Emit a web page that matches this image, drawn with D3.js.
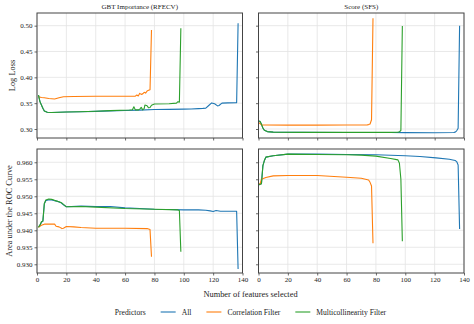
<!DOCTYPE html>
<html><head><meta charset="utf-8">
<script src="https://cdn.jsdelivr.net/npm/d3@7"></script>
<style>body{margin:0;background:#fff}svg{display:block}text{font-family:"Liberation Serif","DejaVu Serif",serif;fill:#222}</style>
</head><body><svg id="c" width="474" height="324"></svg>
<script>
// ---- data ----
const seriesNames = ["All", "Correlation Filter", "Multicollinearity Filter"];
const seriesColors = ["#1f77b4", "#ff7f0e", "#2ca02c"];
const colTitles = ["GBT Importance (RFECV)", "Score (SFS)"];
const rowLabels = ["Log Loss", "Area under the ROC Curve"];
const xTicks = [0, 20, 40, 60, 80, 100, 120, 140];
const lossTicks = [0.30, 0.35, 0.40, 0.45, 0.50];
const aucTicks = [0.930, 0.935, 0.940, 0.945, 0.950, 0.955, 0.960];

const rfeLossAll = [[1,0.3658],[2,0.353],[4,0.340],[5,0.3348],[7,0.3323],[10,0.332],[20,0.333],[30,0.3335],[40,0.3342],[50,0.335],[60,0.3358],[70,0.3365],[80,0.3378],[90,0.338],[100,0.3385],[105,0.3388],[110,0.3395],[113,0.340],[115,0.3405],[117,0.3455],[119,0.3505],[121,0.349],[123,0.3448],[124,0.3455],[126,0.350],[130,0.3505],[136,0.351],[137,0.5046]];
const rfeLossCorr = [[1,0.3625],[3,0.361],[5,0.3606],[8,0.359],[12,0.358],[15,0.3605],[18,0.3625],[25,0.363],[40,0.3633],[55,0.3635],[67,0.3635],[68,0.3658],[69,0.364],[70,0.369],[71,0.367],[72,0.368],[73,0.371],[74,0.3695],[75,0.3735],[76,0.375],[77,0.376],[78,0.4916]];
const rfeLossMulti = [[1,0.3658],[2,0.353],[4,0.340],[5,0.3348],[7,0.3323],[10,0.332],[20,0.333],[29,0.3335],[40,0.3345],[50,0.3355],[63,0.3368],[65,0.3372],[66,0.343],[67,0.337],[69,0.337],[70,0.3385],[71,0.342],[72,0.337],[73,0.3395],[73.5,0.3464],[75,0.345],[76,0.341],[77,0.3415],[78,0.346],[80,0.3484],[90,0.349],[95,0.350],[96,0.3528],[97,0.352],[98,0.495]];

const sfsLossAll = [[0,0.3155],[1,0.3145],[2,0.309],[3,0.302],[4,0.2975],[6,0.295],[10,0.294],[30,0.2935],[60,0.2933],[90,0.2932],[100,0.293],[120,0.2928],[133,0.2932],[134,0.294],[135,0.2965],[136,0.3013],[137,0.500]];
const sfsLossCorr = [[0,0.313],[1,0.3105],[2,0.308],[5,0.3077],[20,0.3075],[40,0.3075],[60,0.3077],[74,0.308],[75,0.3085],[76,0.3098],[77,0.318],[78,0.5143]];
const sfsLossMulti = [[0,0.3155],[1,0.315],[2,0.3095],[3,0.302],[4,0.2975],[6,0.295],[10,0.294],[30,0.2935],[60,0.2935],[90,0.2935],[95,0.294],[96,0.2948],[97,0.297],[98,0.4994]];

const rfeAucAll = [[1,0.9409],[2,0.9415],[3,0.9423],[4,0.9427],[5,0.9478],[6,0.9487],[8,0.9490],[10,0.9489],[12,0.9487],[14,0.9485],[16,0.9482],[18,0.9475],[20,0.9469],[30,0.9471],[40,0.9470],[50,0.9470],[60,0.9466],[70,0.9464],[80,0.9462],[90,0.9461],[100,0.9460],[110,0.9460],[115,0.9459],[118,0.9457],[120,0.9455],[122,0.9458],[125,0.9456],[130,0.9456],[136,0.9456],[137,0.9286]];
const rfeAucCorr = [[1,0.9409],[3,0.9415],[5,0.9418],[8,0.9418],[12,0.9418],[13,0.9412],[15,0.9410],[17,0.9405],[18,0.9406],[20,0.9411],[25,0.9410],[30,0.9408],[40,0.9406],[60,0.9406],[75,0.9405],[77,0.9402],[78,0.9322]];
const rfeAucMulti = [[1,0.9409],[2,0.9415],[3,0.9425],[4,0.9427],[5,0.9479],[6,0.9489],[8,0.9492],[10,0.9491],[12,0.9488],[15,0.9484],[17,0.948],[18,0.9476],[20,0.9469],[30,0.9470],[40,0.9468],[60,0.9464],[80,0.9462],[96,0.9460],[97,0.9458],[98,0.9337]];

const sfsAucAll = [[0,0.9533],[1,0.9535],[2,0.9537],[3,0.959],[4,0.9605],[5,0.9615],[10,0.9619],[20,0.9624],[40,0.9624],[60,0.9623],[80,0.9622],[100,0.9619],[110,0.9617],[121,0.9613],[130,0.9609],[134,0.9605],[135,0.9602],[136,0.9592],[137,0.9404]];
const sfsAucCorr = [[0,0.9538],[1,0.9535],[2,0.9550],[5,0.9555],[10,0.9560],[20,0.9561],[40,0.9561],[60,0.9556],[70,0.9553],[75,0.9548],[76,0.9541],[77,0.9530],[78,0.9362]];
const sfsAucMulti = [[0,0.9533],[1,0.9535],[2,0.9537],[3,0.959],[4,0.9605],[5,0.9615],[10,0.9619],[20,0.9624],[40,0.9623],[60,0.9622],[70,0.9621],[80,0.9618],[90,0.9611],[95,0.9607],[96,0.9597],[97,0.955],[98,0.9368]];

// ---- layout ----
const svg = d3.select("#c");
const colX = [[37, 242.5], [258.5, 464]];
const rowY = [[13, 138], [149, 273]];
const yDomains = [[0.2826, 0.5245], [0.92744, 0.9639]];
const yTickSets = [lossTicks, aucTicks];
const yFormats = [d3.format(".2f"), d3.format(".3f")];
const panels = [
  [[rfeLossAll, rfeLossCorr, rfeLossMulti], [sfsLossAll, sfsLossCorr, sfsLossMulti]],
  [[rfeAucAll, rfeAucCorr, rfeAucMulti], [sfsAucAll, sfsAucCorr, sfsAucMulti]]
];
const spineColor = "#444";
const gridColor = "#e3e3e3";

for (let r = 0; r < 2; r++) {
  for (let c = 0; c < 2; c++) {
    const x = d3.scaleLinear().domain([0, 140]).range(colX[c]);
    const y = d3.scaleLinear().domain(yDomains[r]).range([rowY[r][1], rowY[r][0]]);
    const g = svg.append("g");
    g.selectAll(".gx").data(xTicks).join("line")
      .attr("x1", d => x(d)).attr("x2", d => x(d))
      .attr("y1", rowY[r][0]).attr("y2", rowY[r][1])
      .attr("stroke", gridColor).attr("stroke-width", 0.8);
    g.selectAll(".gy").data(yTickSets[r]).join("line")
      .attr("x1", colX[c][0]).attr("x2", colX[c][1])
      .attr("y1", d => y(d)).attr("y2", d => y(d))
      .attr("stroke", gridColor).attr("stroke-width", 0.8);
    const xa = d3.axisBottom(x).tickValues(xTicks).tickSize(2.5).tickPadding(2)
      .tickFormat(r === 1 ? d3.format("d") : () => "");
    const gx = g.append("g").attr("transform", `translate(0,${rowY[r][1]})`).call(xa);
    const ya = d3.axisLeft(y).tickValues(yTickSets[r]).tickSize(2.5).tickPadding(2)
      .tickFormat(c === 0 ? yFormats[r] : () => "");
    const gy = g.append("g").attr("transform", `translate(${colX[c][0]},0)`).call(ya);
    [gx, gy].forEach(a => {
      a.attr("font-family", null);
      a.select(".domain").remove();
      a.selectAll(".tick line").attr("stroke", spineColor).attr("stroke-width", 0.8);
      a.selectAll(".tick text").attr("font-size", 7).attr("fill", "#222")
        .style("font-family", '"Liberation Serif", serif');
    });
    const line = d3.line().x(d => x(d[0])).y(d => y(d[1]));
    panels[r][c].forEach((s, i) => {
      g.append("path").datum(s).attr("d", line)
        .attr("fill", "none").attr("stroke", seriesColors[i])
        .attr("stroke-width", 1.1).attr("stroke-linejoin", "round");
    });
    g.append("rect").attr("x", colX[c][0]).attr("y", rowY[r][0])
      .attr("width", colX[c][1] - colX[c][0]).attr("height", rowY[r][1] - rowY[r][0])
      .attr("fill", "none").attr("stroke", spineColor).attr("stroke-width", 1);
    if (r === 0) {
      svg.append("text").attr("x", (colX[c][0] + colX[c][1]) / 2).attr("y", 9.3)
        .attr("text-anchor", "middle").attr("font-size", 7).text(colTitles[c]);
    }
  }
  const lx = r === 0 ? 12.5 : 9.5;
  const ly = (rowY[r][0] + rowY[r][1]) / 2;
  svg.append("text").attr("transform", `translate(${lx},${ly}) rotate(-90)`)
    .attr("text-anchor", "middle").attr("dy", "0.35em").attr("font-size", 8.4).text(rowLabels[r]);
}

svg.append("text").attr("x", 250.5).attr("y", 297).attr("text-anchor", "middle")
  .attr("font-size", 8.4).text("Number of features selected");

// legend
const fs = 7.6, hl = 15, pad = 6, colsp = 15;
const entries = [{label: "Predictors", color: null}].concat(
  seriesNames.map((n, i) => ({label: n, color: seriesColors[i]})));
const lg = svg.append("g");
let cx = 0;
const legY = 312;
entries.forEach((e, i) => {
  if (e.color) {
    lg.append("line").attr("x1", cx).attr("x2", cx + hl).attr("y1", legY).attr("y2", legY)
      .attr("stroke", e.color).attr("stroke-width", 1.1);
    cx += hl + pad;
  }
  const t = lg.append("text").attr("x", cx).attr("y", legY).attr("dy", "0.35em")
    .attr("font-size", fs).text(e.label);
  cx += t.node().getComputedTextLength() + colsp;
});
const total = cx - colsp;
lg.attr("transform", `translate(${250.5 - total / 2},0)`);
</script></body></html>
